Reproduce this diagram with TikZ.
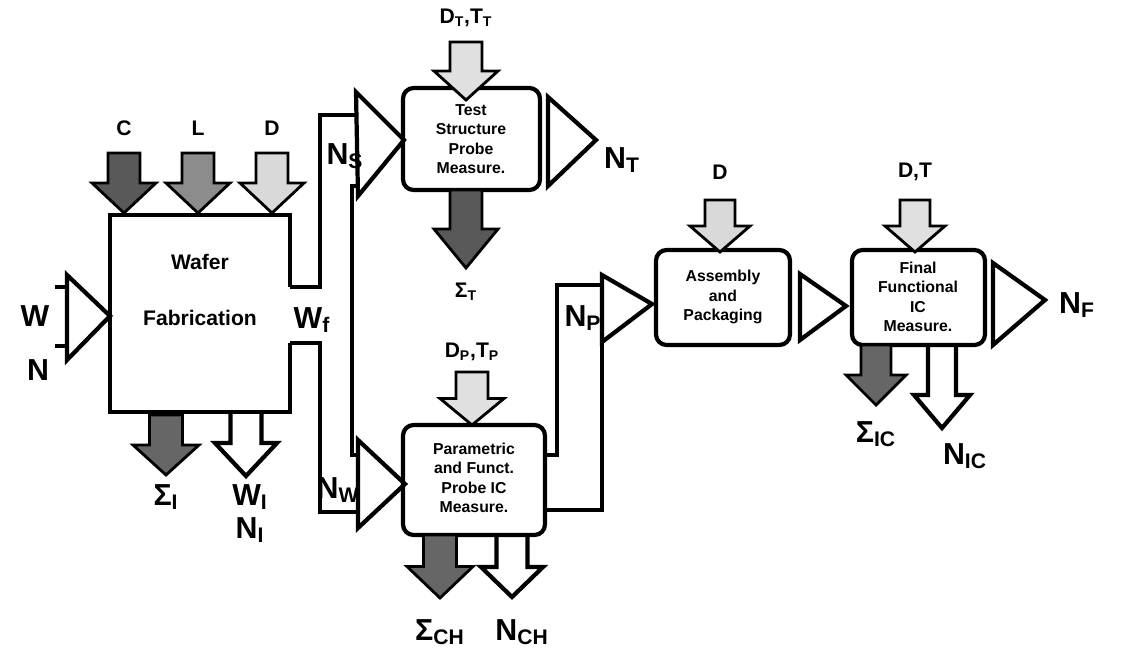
\documentclass[tikz,border=0pt]{standalone}
\usepackage{fontspec}
\setmainfont{Liberation Sans}
\newcommand\barr[5]{\path[blk,#5] ({#1-#4*0.5},#2) -- ({#1+#4*0.5},#2) -- ({#1+#4*0.5},{#2+(#3-#2)*0.5}) -- ({#1+#4},{#2+(#3-#2)*0.5}) -- (#1,#3) -- ({#1-#4},{#2+(#3-#2)*0.5}) -- ({#1-#4*0.5},{#2+(#3-#2)*0.5}) -- cycle;}
\newcommand\hollowdown[5]{% x, ystem top, ytri top, ytip, halfwidth
\draw[ln] ({#1-#5*0.5},#2) -- ({#1-#5*0.5},#3) -- ({#1-#5},#3) -- (#1,#4) -- ({#1+#5},#3) -- ({#1+#5*0.5},#3) -- ({#1+#5*0.5},#2);}
\begin{document}
\begin{tikzpicture}[x=0.02cm,y=-0.02cm,
 ln/.style={line width=2.4pt,line join=miter},
 blk/.style={draw=black,line width=1.6pt},
 box/.style={ln,rounded corners=6pt},
 t/.style={font=\bfseries\large,inner sep=1pt},
 tl/.style={font=\bfseries\LARGE,inner sep=1pt},
 bt/.style={font=\bfseries\small,align=center,inner sep=1pt}]
\useasboundingbox (0,0) rectangle (1144,657);
% Wafer fabrication
\draw[ln] (290,287) -- (290,215) -- (110,215) -- (110,412) -- (290,412) -- (290,343);
\node[t] (wf1) at (200,262) {Wafer};
\node[t] (wf2) at (200,318) {Fabrication};
\node[tl] (wfl) at (312,320) {W\textsubscript{f}};
\barr{124}{153}{213}{32}{fill=black!65}
\barr{198}{153}{213}{32}{fill=black!45}
\barr{272}{153}{213}{32}{fill=black!15}
\node[t] (lc) at (124,128) {C};
\node[t] (ll) at (198,128) {L};
\node[t] (ld) at (272,128) {D};
\draw[ln] (67,275) -- (110,316) -- (67,360) -- cycle;
\draw[ln] (55,287) -- (67,287) (55,346) -- (67,346);
\node[tl] (lw) at (35,316) {W};
\node[tl] (ln) at (38,370) {N};
\barr{166}{415}{475}{33}{fill=black!60}
\node[tl] (lsi) at (166,497) {Σ\textsubscript{I}};
\hollowdown{246}{412}{443}{476}{31}
\node[tl] (lwi) at (250,497) {W\textsubscript{I}};
\node[tl] (lni) at (250,530) {N\textsubscript{I}};
% channels
\draw[ln] (290,287) -- (320,287) -- (320,115) -- (356,115);
\draw[ln] (358,186) -- (352,186) -- (352,455) -- (358,455);
\draw[ln] (290,343) -- (320,343) -- (320,512) -- (358,512);
\draw[ln] (356,92) -- (404,140) -- (358,196) -- cycle;
\draw[ln] (358,440) -- (405,484) -- (358,528) -- cycle;
\node[tl] (lns) at (345,156) {N\textsubscript{S}};
\node[tl] (lnw) at (338,490) {N\textsubscript{W}};
% test structure
\draw[box] (403,88) rectangle (540,190);
\node[bt] (ts) at (471,139) {Test\\Structure\\Probe\\Measure.};
\barr{466}{42}{100}{32}{fill=black!12}
\node[t] (ldt) at (466,18) {D\textsubscript{T},T\textsubscript{T}};
\barr{466}{190}{268}{32}{fill=black!65}
\node[t] (lst) at (466,292) {Σ\textsubscript{T}};
\draw[ln] (548,97) -- (596,140) -- (548,186) -- cycle;
\node[tl] (lnt) at (622,160) {N\textsubscript{T}};
% parametric
\draw[box] (403,425) rectangle (545,535);
\node[bt] (pm) at (474,478) {Parametric\\and Funct.\\Probe IC\\Measure.};
\barr{472}{372}{425}{32}{fill=black!12}
\node[t] (ldp) at (472,352) {D\textsubscript{P},T\textsubscript{P}};
\barr{440}{535}{598}{33}{fill=black!60}
\node[tl] (lsch) at (440,632) {Σ\textsubscript{CH}};
\hollowdown{512}{535}{567}{597}{31}
\node[tl] (lnch) at (522,632) {N\textsubscript{CH}};
\draw[ln] (545,455) -- (557,455) -- (557,285) -- (602,285);
\draw[ln] (545,510) -- (602,510) -- (602,340);
\draw[ln] (602,275) -- (652,304) -- (602,342) -- cycle;
\node[tl] (lnp) at (583,318) {N\textsubscript{P}};
% assembly
\draw[box] (656,250) rectangle (790,345);
\node[bt] (as) at (723,297) {Assembly\\and\\Packaging};
\barr{720}{200}{252}{30}{fill=black!15}
\node[t] (lda) at (720,172) {D};
\draw[ln] (800,274) -- (846,306) -- (800,340) -- cycle;
% final
\draw[box] (852,250) rectangle (985,345);
\node[bt] (ff) at (918,297) {Final\\Functional\\IC\\Measure.};
\barr{915}{200}{252}{30}{fill=black!12}
\node[t] (ldf) at (915,172) {D,T};
\draw[ln] (993,263) -- (1045,300) -- (993,345) -- cycle;
\node[tl] (lnf) at (1077,305) {N\textsubscript{F}};
\barr{876}{345}{405}{30}{fill=black!60}
\node[tl] (lsic) at (876,434) {Σ\textsubscript{IC}};
\hollowdown{942}{345}{395}{428}{28}
\node[tl] (lnic) at (965,456) {N\textsubscript{IC}};
\end{tikzpicture}
\end{document}
